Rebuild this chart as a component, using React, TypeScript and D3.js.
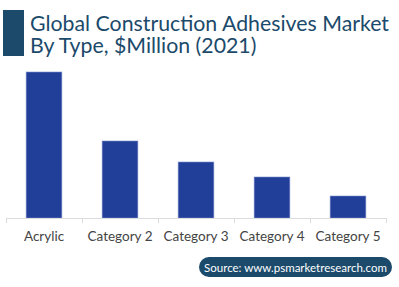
import React from "react";
import * as d3 from "d3";

const categories = ["Acrylic", "Category 2", "Category 3", "Category 4", "Category 5"];
const values = [146, 77, 56, 41, 22];
const titleLines = ["Global Construction Adhesives Market", "By Type, $Million (2021)"];
const sourceText = "Source: www.psmarketresearch.com";

export default function App() {
  const W = 399, H = 287;
  const x = d3.scaleBand().domain(categories).range([6, 386]).paddingInner(0.53).paddingOuter(0.265);
  const y = d3.scaleLinear().domain([0, 150]).range([218, 68]);
  const step = x.step();
  const ticks = d3.range(categories.length + 1).map((i) => 6 + i * step);
  const dark = "#1b4a6b";
  const barColor = "#213e98";
  return (
    <svg width={W} height={H} style={{ position: "absolute", left: 0, top: 0, background: "#fff" }}>
      <rect x={3} y={10} width={21} height={46} fill={dark} />
      {titleLines.map((t, i) => (
        <text key={i} x={30} y={30.5 + i * 22} fontFamily="Lato, 'Noto Sans', sans-serif" fontSize={21.3} fill={dark}>
          {t}
        </text>
      ))}
      {categories.map((c, i) => (
        <rect key={c} x={x(c)} y={y(values[i])} width={x.bandwidth()} height={218 - y(values[i])} fill={barColor} stroke="#7b8fcf" strokeWidth={0.6} />
      ))}
      <line x1={6} x2={386} y1={218.5} y2={218.5} stroke="#dcdcdc" strokeWidth={1} />
      {ticks.map((t, i) => (
        <line key={i} x1={t + 0.5} x2={t + 0.5} y1={218} y2={223} stroke="#dcdcdc" />
      ))}
      {categories.map((c) => (
        <text key={c} x={(x(c) as number) + x.bandwidth() / 2} y={241} textAnchor="middle" fontFamily="Lato, 'Noto Sans', sans-serif" fontSize={13.5} fill="#444">
          {c}
        </text>
      ))}
      <rect x={199} y={257} width={193} height={20} rx={10} fill={dark} />
      <text x={295.5} y={271.5} textAnchor="middle" fontFamily="Lato, 'Noto Sans', sans-serif" fontSize={11.5} fill="#fff">
        {sourceText}
      </text>
    </svg>
  );
}
